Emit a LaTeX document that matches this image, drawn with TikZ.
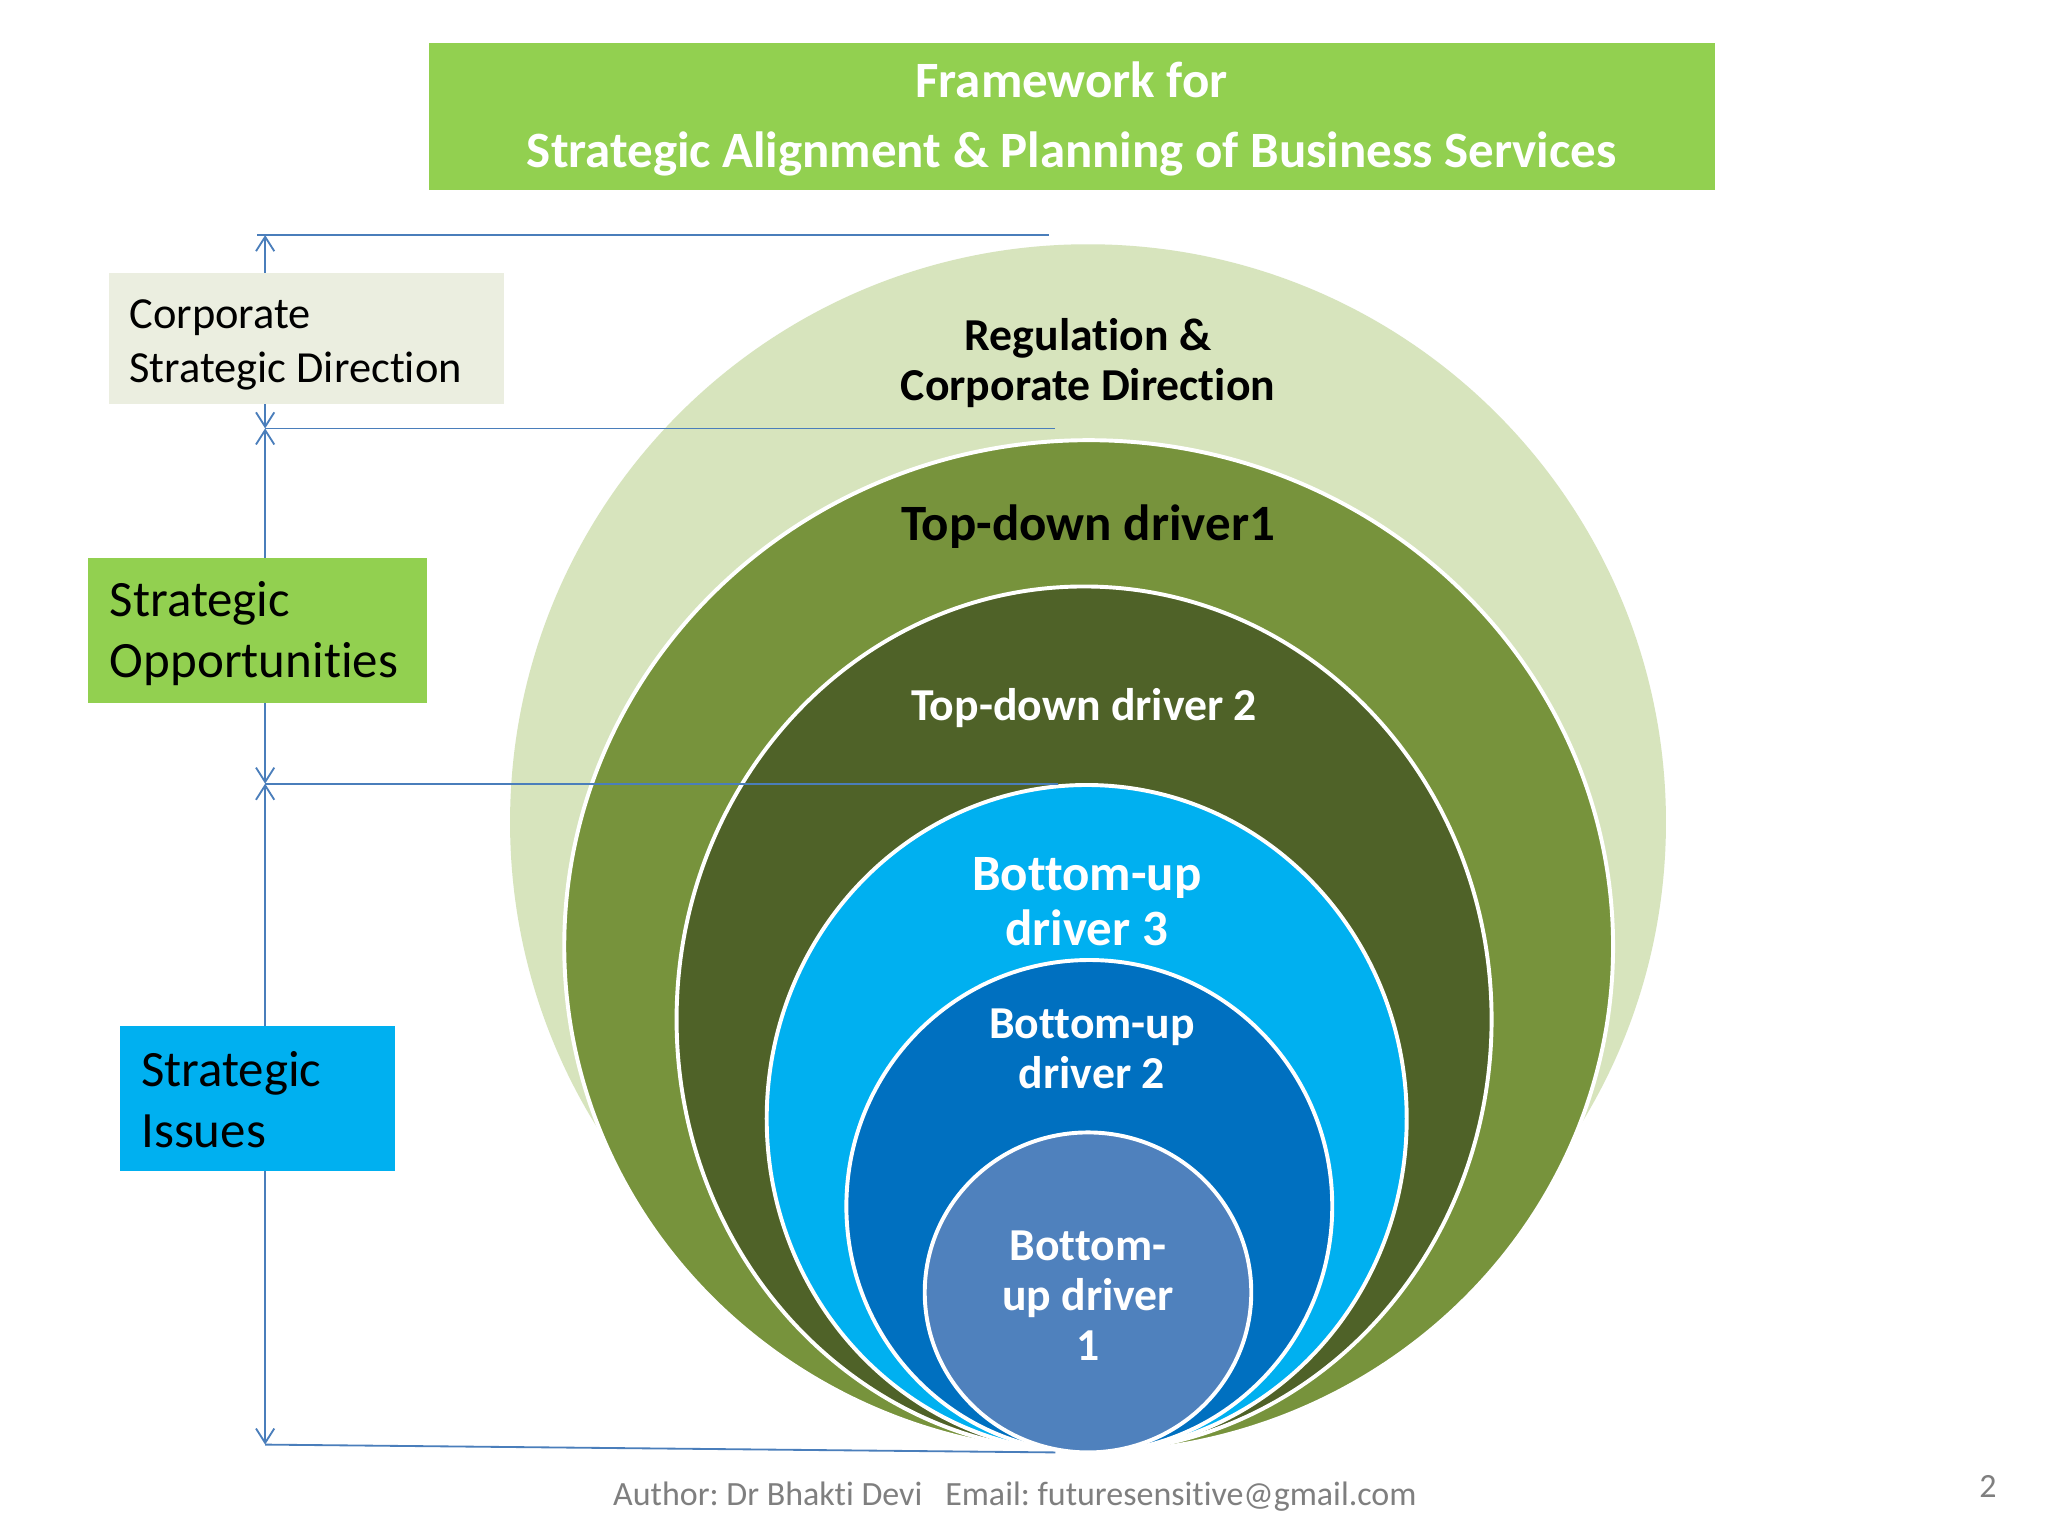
\documentclass[tikz,border=0pt]{standalone}
\usepackage{fontspec}
\setmainfont{Carlito}[Ligatures={NoCommon}]
\frenchspacing
\usetikzlibrary{arrows.meta}
\definecolor{lightol}{HTML}{D7E4BD}
\definecolor{olive}{HTML}{77933C}
\definecolor{darkol}{HTML}{4F6228}
\definecolor{cyanb}{HTML}{00B0F0}
\definecolor{blueb}{HTML}{0070C0}
\definecolor{smallb}{HTML}{4F81BD}
\definecolor{titleg}{HTML}{92D050}
\definecolor{corpbox}{HTML}{EBEEE0}
\definecolor{linec}{HTML}{4A7EBB}
\definecolor{footg}{HTML}{7F7F7F}
\tikzset{
  ring/.style={draw=white, line width=3pt},
  dimline/.style={draw=linec, line width=1.4pt},
  dimarrow/.style={dimline, {Straight Barb[length=11pt,width=14pt,line width=1.4pt]}-{Straight Barb[length=11pt,width=14pt,line width=1.4pt]}},
  sidebox/.style={inner sep=0pt, anchor=north west},
  sidetext/.style={inner sep=0pt, align=left, anchor=west, text=black},
  lab/.style={align=center, font=\bfseries},
}
\begin{document}
\begin{tikzpicture}[x=1pt,y=-1pt]
\useasboundingbox (0,0) rectangle (1568,1176);
\fill[white] (0,0) rectangle (1568,1176);
% title
\node[fill=titleg, minimum width=985pt, minimum height=112pt, anchor=north west, inner sep=0pt] (title) at (328,33) {};
\node[text=white, font=\bfseries\fontsize{39}{54}\selectfont, align=center] (titletxt) at (820.5,91) {Framework for\\Strategic Alignment \& Planning of Business Services};
% circles
\fill[lightol] (833,629.5) ellipse [x radius=442.5pt, y radius=442.5pt];
\path[fill=olive, ring] (833.5,724.5) ellipse [x radius=401.5pt, y radius=387.5pt];
\path[fill=darkol, ring] (830,780.5) ellipse [x radius=312pt, y radius=331.5pt];
\path[fill=cyanb, ring] (832,856.5) ellipse [x radius=245pt, y radius=255.5pt];
\path[fill=blueb, ring] (834,923.5) ellipse [x radius=186pt, y radius=188.5pt];
\path[fill=smallb, ring] (833,989.5) ellipse [x radius=125pt, y radius=122.5pt];
% circle labels
\node[lab, font=\bfseries\fontsize{35}{38}\selectfont, text=black] (reg) at (833,278) {Regulation \&\\Corporate Direction};
\node[lab, font=\bfseries\fontsize{39}{42}\selectfont, text=black] (td1) at (833,403) {Top-down driver1};
\node[lab, font=\bfseries\fontsize{35}{38}\selectfont, text=white] (td2) at (830,542) {Top-down driver 2};
\node[lab, font=\bfseries\fontsize{39}{42}\selectfont, text=white] (bu3) at (832,690) {Bottom-up\\driver 3};
\node[lab, font=\bfseries\fontsize{35}{38}\selectfont, text=white] (bu2) at (836,803) {Bottom-up\\driver 2};
\node[lab, font=\bfseries\fontsize{35}{38}\selectfont, text=white] (bu1) at (833,992) {Bottom-\\up driver\\1};
% dimension lines
\coordinate (p1) at (203,180);
\coordinate (p2) at (203,328);
\coordinate (p3) at (203,600);
\coordinate (p4) at (203,1106);
\coordinate (q1) at (803,180);
\coordinate (q2) at (808,328);
\coordinate (q3) at (810,600);
\coordinate (q4) at (808,1112);
\coordinate (p1s) at (197,180);
\draw[dimline] (p1s) -- (q1);
\draw[dimline] (p2) -- (q2);
\draw[dimline] (p3) -- (q3);
\draw[dimline] (p4) -- (q4);
\draw[dimarrow] (p1) -- (p2);
\draw[dimarrow] (p2) -- (p3);
\draw[dimarrow] (p3) -- (p4);
% side boxes
\node[sidebox, fill=corpbox, minimum width=303pt, minimum height=100pt] (corp) at (83,209) {};
\node[sidetext, font=\fontsize{34}{41}\selectfont] (corptxt) at (99,264) {Corporate\\Strategic Direction};
\node[sidebox, fill=titleg, minimum width=260pt, minimum height=111pt] (opp) at (67,427) {};
\node[sidetext, font=\fontsize{39}{47}\selectfont] (opptxt) at (84,485) {Strategic\\Opportunities};
\node[sidebox, fill=cyanb, minimum width=210pt, minimum height=111pt] (iss) at (92,785) {};
\node[sidetext, font=\fontsize{39}{47}\selectfont] (isstxt) at (108,842) {Strategic\\Issues};
% footer
\node[text=footg, font=\fontsize{26}{30}\selectfont] (foot) at (777,1146) {Author: Dr Bhakti Devi\ \ \ Email: futuresensitive@gmail.com};
\node[text=footg, font=\fontsize{26}{30}\selectfont] (pg) at (1522,1138) {2};
\end{tikzpicture}
\end{document}
